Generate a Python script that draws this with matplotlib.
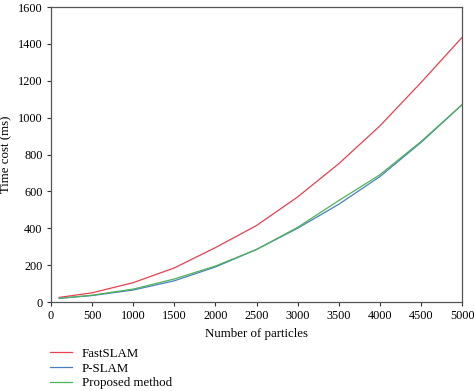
import numpy as np
import matplotlib.pyplot as plt

plt.rcParams['font.family'] = ['Liberation Serif', 'DejaVu Serif']

particles = [100, 500, 1000, 1500, 2000, 2500, 3000, 3500, 4000, 4500, 5000]
fastslam = [25, 50, 105, 185, 295, 415, 570, 750, 955, 1190, 1435]
pslam = [20, 35, 65, 115, 190, 285, 400, 530, 680, 865, 1070]
proposed = [20, 37, 70, 125, 195, 285, 405, 550, 690, 870, 1070]

fig = plt.figure(figsize=(4.74, 3.91), dpi=100)
ax = fig.add_axes([0.1076, 0.2276, 0.8671, 0.7544])

ax.plot(particles, fastslam, color='#e8414f', linewidth=0.9, label='FastSLAM')
ax.plot(particles, pslam, color='#4a7fc1', linewidth=0.9, label='P-SLAM')
ax.plot(particles, proposed, color='#4db35a', linewidth=0.9, label='Proposed method')

ax.set_xlim(0, 5000)
ax.set_ylim(0, 1600)
ax.set_xticks(np.arange(0, 5001, 500))
ax.set_yticks(np.arange(0, 1601, 200))
ax.tick_params(direction='out', length=3, pad=3, labelsize=8.8, color='#333333')
ax.set_xlabel('Number of particles', fontsize=9.3, labelpad=4)
ax.set_ylabel('Time cost (ms)', fontsize=9.3)
ax.yaxis.set_label_coords(-0.095, 0.5)
for sp in ax.spines.values():
    sp.set_color('#555555')
    sp.set_linewidth(0.9)

fig.legend(loc='upper left', bbox_to_anchor=(0.105, 0.111), frameon=False,
           fontsize=9.3, handlelength=1.75, handletextpad=0.75,
           labelspacing=0.22, borderpad=0, borderaxespad=0)

fig.savefig('out.png', dpi=100)
